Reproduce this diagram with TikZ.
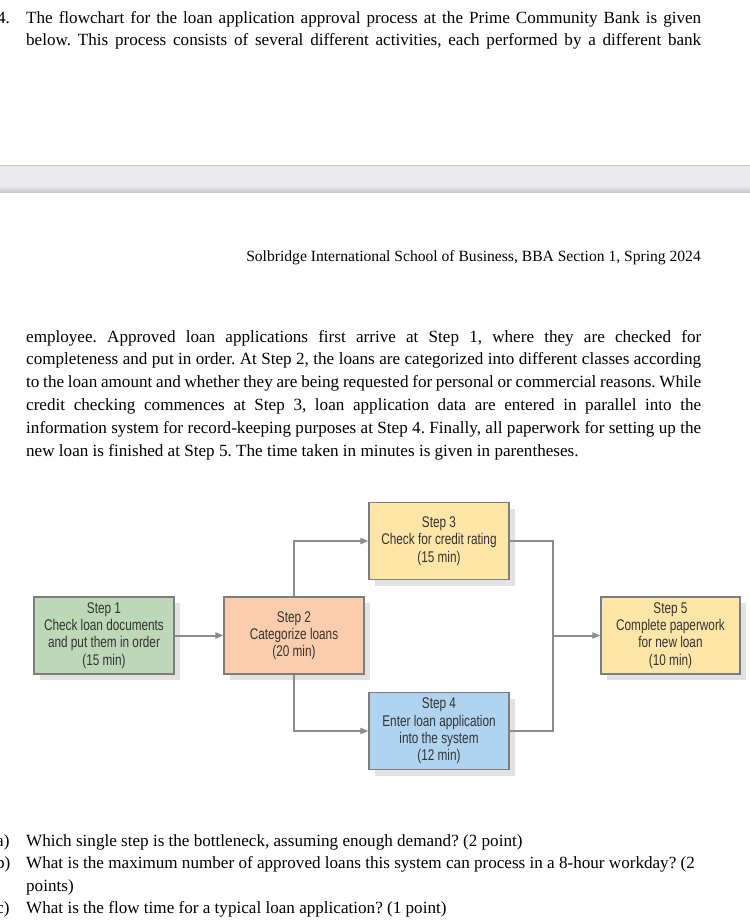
\documentclass[tikz,border=0pt]{standalone}
\usepackage{fontspec}
\setmainfont{Liberation Serif}
\newfontfamily\boxfont[FakeStretch=0.76]{Liberation Sans}
\usetikzlibrary{arrows.meta,shadows}
\definecolor{stepgreen}{RGB}{188,216,182}
\definecolor{steporange}{RGB}{252,205,172}
\definecolor{stepyellow}{RGB}{253,230,168}
\definecolor{stepblue}{RGB}{176,212,240}
\definecolor{boxline}{RGB}{125,125,125}
\definecolor{flowline}{RGB}{140,140,140}
\definecolor{shade}{RGB}{226,226,226}
\definecolor{band}{RGB}{233,233,238}
\definecolor{bandedge}{RGB}{200,200,206}
\frenchspacing
\begin{document}
\begin{tikzpicture}[x=1pt,y=-1pt,>={Triangle[length=8pt,width=6pt]},
    txt/.style={inner sep=0pt,anchor=base west,font=\fontsize{17.1}{22.9}\selectfont},
    stepbox/.style={draw=boxline,line width=1.2pt,minimum width=140pt,minimum height=77pt,
      inner sep=0pt,align=center,text=black!80,
      font=\boxfont\fontsize{15.5}{17.3}\selectfont,
      drop shadow={shadow xshift=6pt,shadow yshift=-6pt,fill=shade,opacity=1}},
    flow/.style={draw=flowline,line width=2pt}]
  \useasboundingbox (0,0) rectangle (750,922);
  % page one
  \node[txt] (num) at (-3,23) {4.};
  \node[txt,text width=675pt,align=justify] (intro) at (26,23) {\parfillskip=0pt
    The flowchart for the loan application approval process at the Prime Community Bank is given\linebreak
    below. This process consists of several different activities, each performed by a different bank\par};
  % page break
  \fill[band] (0,165) rectangle (750,189);
  \shade[top color=band,bottom color=bandedge] (0,186) rectangle (750,192);
  \draw[bandedge,line width=0.8pt] (0,165.4) -- (750,165.4);
  % page two
  \node[txt,anchor=base east,font=\fontsize{15.6}{18}\selectfont] (school) at (701,261) {Solbridge International School of Business, BBA Section 1, Spring 2024};
  \node[txt,text width=675pt,align=justify] (body) at (26,342) {employee. Approved loan applications first arrive at Step 1, where they are checked for\linebreak
    completeness and put in order. At Step 2, the loans are categorized into different classes according\linebreak
    to the loan amount and whether they are being requested for personal or commercial reasons. While\linebreak
    credit checking commences at Step 3, loan application data are entered in parallel into the\linebreak
    information system for record-keeping purposes at Step 4. Finally, all paperwork for setting up the\linebreak
    new loan is finished at Step 5. The time taken in minutes is given in parentheses.};
  % flowchart
  \node[stepbox,fill=stepgreen] (s1) at (104,635.5) {Step 1\\Check loan documents\\and put them in order\\(15 min)};
  \node[stepbox,fill=steporange] (s2) at (294,635.5) {Step 2\\Categorize loans\\(20 min)};
  \node[stepbox,fill=stepyellow] (s3) at (439,541) {Step 3\\Check for credit rating\\(15 min)};
  \node[stepbox,fill=stepblue] (s4) at (439,731) {Step 4\\Enter loan application\\into the system\\(12 min)};
  \node[stepbox,fill=stepyellow,minimum width=139pt] (s5) at (670.5,635.5) {Step 5\\Complete paperwork\\for new loan\\(10 min)};
  \coordinate (join) at (553,635.5);
  \draw[flow,->] (s1) -- (s2);
  \draw[flow,->] (s2) |- (s3);
  \draw[flow,->] (s2) |- (s4);
  \draw[flow] (s3) -| (join);
  \draw[flow] (s4) -| (join);
  \draw[flow,->] (join) -- (s5);
  % questions
  \node[txt] (la) at (-4,846) {a)};
  \node[txt] (qa) at (26,846) {Which single step is the bottleneck, assuming enough demand? (2 point)};
  \node[txt] (lb) at (-4,868.5) {b)};
  \node[txt] (qb) at (26,868.5) {What is the maximum number of approved loans this system can process in a 8-hour workday? (2};
  \node[txt] (qb2) at (26,891) {points)};
  \node[txt] (lc) at (-4,913.5) {c)};
  \node[txt] (qc) at (26,913.5) {What is the flow time for a typical loan application? (1 point)};
\end{tikzpicture}
\end{document}
